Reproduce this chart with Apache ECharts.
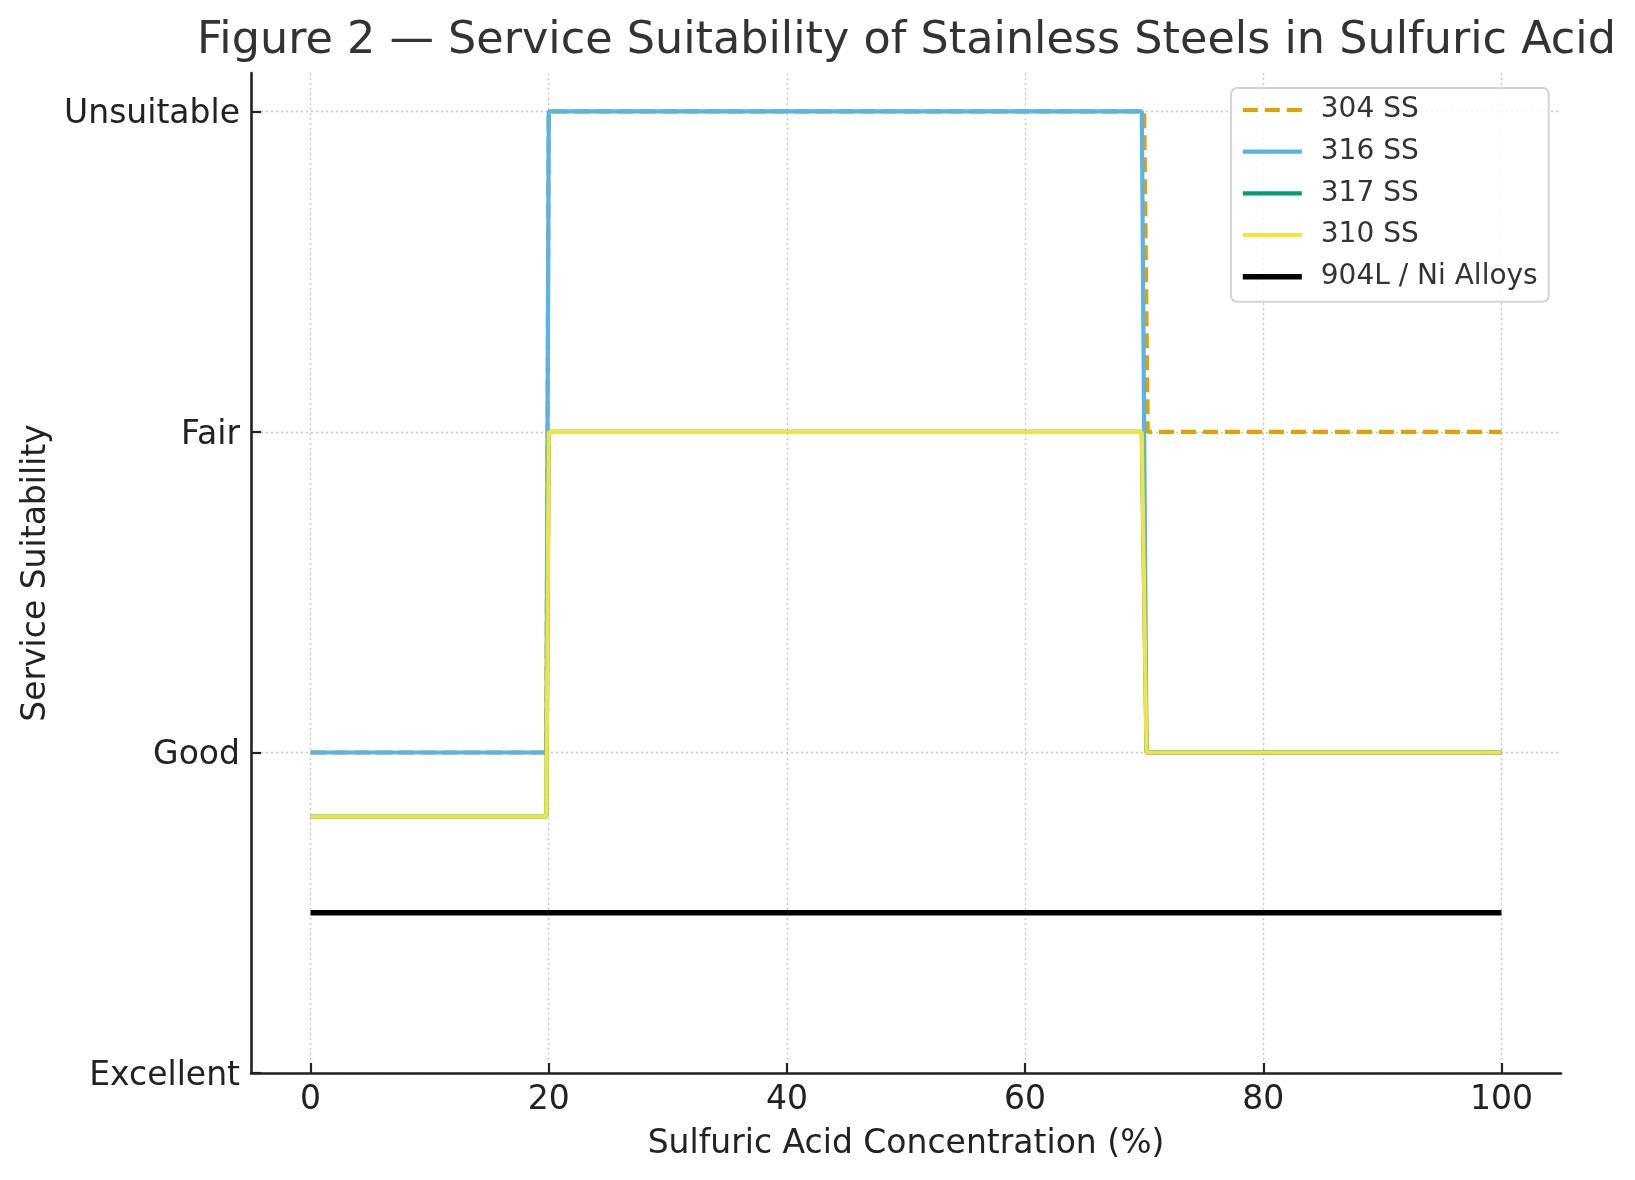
<!DOCTYPE html>
<html>
<head>
<meta charset="utf-8">
<title>Figure 2 — Service Suitability</title>
<script src="https://cdn.jsdelivr.net/npm/echarts@6/dist/echarts.min.js"></script>
<style>
    html, body { margin: 0; padding: 0; background: #fff; }
    #chart { width: 1635px; height: 1180px; }
</style>
</head>
<body>
<div id="chart"></div>
<script>
/* ===== data ===== */
const xTicks = [0, 20, 40, 60, 80, 100];
const yTicks = [0, 1, 2, 3];
const yLabels = ["Excellent", "Good", "Fair", "Unsuitable"];

const conc304 = [0, 19.8, 20, 70, 70.3, 100];
const rating304 = [1, 1, 3, 3, 2, 2];

const conc316 = [0, 19.8, 20, 69.8, 70.2, 100];
const rating316 = [1, 1, 3, 3, 1, 1];

const conc317 = [0, 19.8, 20, 69.8, 70.2, 100];
const rating317 = [0.8, 0.8, 2, 2, 1, 1];

const conc310 = [0, 19.8, 20, 69.8, 70.2, 100];
const rating310 = [0.8, 0.8, 2, 2, 1, 1];

const conc904 = [0, 100];
const rating904 = [0.5, 0.5];

/* ===== helpers ===== */
const FONT = "DejaVu Sans";
const pairs = (xs, ys) => xs.map((x, i) => [x, ys[i]]);

function lineSeries(name, xs, ys, color, width, type) {
    return {
        name,
        type: "line",
        data: pairs(xs, ys),
        symbol: "none",
        animation: false,
        lineStyle: { color, width, type: type || "solid" },
        itemStyle: { color },
    };
}

const gridDot = { show: true, lineStyle: { color: "#c8c8c8", width: 1.4, type: [2, 3] } };
const spine = { show: true, onZero: false, lineStyle: { color: "#222", width: 2.6 } };
const tick = { show: true, inside: true, length: 10, lineStyle: { color: "#222", width: 2.2 } };

const chart = echarts.init(document.getElementById("chart"), null, { renderer: "canvas" });

chart.setOption({
    backgroundColor: "#fff",
    animation: false,
    title: {
        text: "Figure 2 — Service Suitability of Stainless Steels in Sulfuric Acid",
        left: 192,
        top: 14,
        textStyle: { fontFamily: FONT, fontSize: 44.5, fontWeight: "normal", color: "#333" },
    },
    grid: { left: 251, right: 74, top: 73, bottom: 107, containLabel: false },
    legend: {
        orient: "vertical",
        left: 1231,
        top: 88,
        padding: [8, 11, 11, 9],
        itemWidth: 59,
        itemHeight: 4,
        itemGap: 13.7,
        backgroundColor: "rgba(255,255,255,0.85)",
        borderColor: "#d4d4d4",
        borderWidth: 2,
        borderRadius: 6,
        itemStyle: { opacity: 0 },
        lineStyle: { width: "inherit", type: "inherit" },
        textStyle: { fontFamily: FONT, fontSize: 28, lineHeight: 28, color: "#333", padding: [0, 0, 0, 14] },
        data: ["304 SS", "316 SS", "317 SS", "310 SS", "904L / Ni Alloys"],
    },
    xAxis: {
        type: "value",
        min: -5,
        max: 105,
        name: "Sulfuric Acid Concentration (%)",
        nameLocation: "middle",
        nameGap: 55,
        nameTextStyle: { fontFamily: FONT, fontSize: 33, color: "#222" },
        axisLine: spine,
        axisTick: Object.assign({ customValues: xTicks }, tick),
        axisLabel: { customValues: xTicks, fontFamily: FONT, fontSize: 33, color: "#222", margin: 11 },
        splitLine: gridDot,
    },
    yAxis: {
        type: "value",
        min: 0,
        max: 3.12,
        name: "Service Suitability",
        nameLocation: "middle",
        nameRotate: 90,
        nameGap: 198,
        nameTextStyle: { fontFamily: FONT, fontSize: 33, color: "#222" },
        axisLine: spine,
        axisTick: Object.assign({ customValues: yTicks }, tick),
        axisLabel: {
            customValues: yTicks,
            margin: 11,
            formatter: v => "{t|" + (yLabels[Math.round(v)] || "") + "}",
            rich: {
                t: { fontFamily: FONT, fontSize: 33, color: "#222", padding: [6, 0, 0, 0] },
            },
        },
        splitLine: gridDot,
    },
    series: [
        lineSeries("304 SS", conc304, rating304, "#E69F00", 4.2, [15, 7]),
        lineSeries("316 SS", conc316, rating316, "#56B4E9", 4.2),
        lineSeries("317 SS", conc317, rating317, "#009E73", 4.2),
        lineSeries("310 SS", conc310, rating310, "#F0E442", 4.2),
        lineSeries("904L / Ni Alloys", conc904, rating904, "#000000", 5.6),
    ],
});
</script>
</body>
</html>
